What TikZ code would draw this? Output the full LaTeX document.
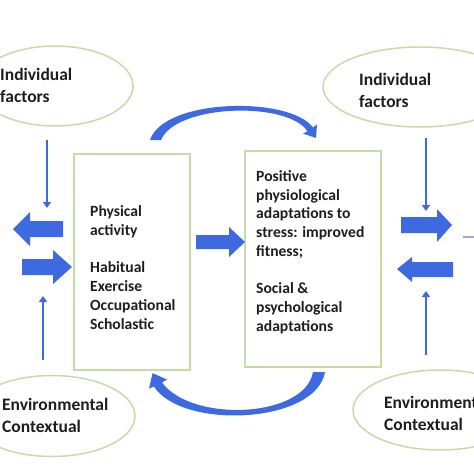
\documentclass[tikz,border=0pt]{standalone}
\usepackage{fontspec}
\setmainfont{Carlito}
\usetikzlibrary{shapes.geometric,arrows.meta}
\definecolor{arrowblue}{HTML}{3D6AE0}
\definecolor{linegreen}{HTML}{C4DDA8}
\definecolor{txt}{HTML}{1E1E1E}
\definecolor{dashgray}{HTML}{9AAAC8}
\tikzset{
  ell/.style={ellipse, draw=linegreen, line width=1.5pt, inner sep=0pt},
  bx/.style={rectangle, draw=linegreen, line width=1.5pt, inner sep=0pt},
  etext/.style={font=\fontsize{17.5}{21.5}\selectfont\bfseries, text=txt, align=left, inner sep=0pt, anchor=base west},
  btext/.style={font=\fontsize{15.6}{18.7}\selectfont\bfseries, text=txt, align=left, inner sep=0pt, anchor=base west},
  blockarrow/.style={fill=arrowblue, draw=none},
  thinarrow/.style={draw=arrowblue, line width=2.6pt, -{Triangle[width=8pt,length=6pt]}},
}
\begin{document}
\begin{tikzpicture}[x=1pt,y=-1pt]
\useasboundingbox (0,0) rectangle (474,474);
\clip (0,0) rectangle (474,474);
\fill[white] (0,0) rectangle (474,474);

% ellipses
\node[ell, minimum width=156pt, minimum height=80pt] (indL) at (55,86) {};
\node[ell, minimum width=194pt, minimum height=80pt] (indR) at (420,87) {};
\node[ell, minimum width=166pt, minimum height=81pt] (envL) at (52,416) {};
\node[ell, minimum width=174pt, minimum height=80pt] (envR) at (440,410) {};

\node[etext] (tIndL) at (0,102) {Individual\\factors};
\node[etext] (tIndR) at (359,107) {Individual\\factors};
\node[etext] (tEnvL) at (2,432) {Environmental\\Contextual};
\node[etext] (tEnvR) at (384,430) {Environmental\\Contextual};

% boxes
\node[bx, minimum width=116pt, minimum height=216pt] (boxL) at (132,262) {};
\node[bx, minimum width=136pt, minimum height=216pt] (boxR) at (313,259) {};

\node[btext] (tBoxL) at (90,329) {Physical\\activity\\[18.7pt]Habitual\\Exercise\\Occupational\\Scholastic};
\node[btext] (tBoxR) at (256,331) {Positive\\physiological\\adaptations to\\stress: improved\\fitness;\\[18.7pt]Social \&\\psychological\\adaptations};

% thin arrows
\coordinate (a1s) at (47,140); \coordinate (a1e) at (47,208);
\coordinate (a2s) at (43,360); \coordinate (a2e) at (43,296);
\coordinate (a3s) at (426,138); \coordinate (a3e) at (426,211);
\coordinate (a4s) at (426,355); \coordinate (a4e) at (426,291);
\draw[thinarrow] (a1s) -- (a1e);
\draw[thinarrow] (a2s) -- (a2e);
\draw[thinarrow] (a3s) -- (a3e);
\draw[thinarrow] (a4s) -- (a4e);

% block arrows
\fill[blockarrow] (63,221) -- (30,221) -- (30,212) -- (13,229) -- (30,246) -- (30,237) -- (63,237) -- cycle;
\fill[blockarrow] (22,259) -- (53,259) -- (53,250) -- (72,267) -- (53,284) -- (53,275) -- (22,275) -- cycle;
\fill[blockarrow] (196,235) -- (229,235) -- (229,227) -- (245,242) -- (229,257) -- (229,249) -- (196,249) -- cycle;
\fill[blockarrow] (401,217) -- (437,217) -- (437,209) -- (452,225) -- (437,242) -- (437,233) -- (401,233) -- cycle;
\fill[blockarrow] (453,262) -- (412,262) -- (412,257) -- (397,269) -- (412,282) -- (412,277) -- (453,277) -- cycle;

\coordinate (d1) at (463,237); \coordinate (d2) at (474,237);
\draw[dashgray, line width=2pt] (d1) -- (d2);

% curved arrows
\fill[blockarrow] (150,140) .. controls (164,98) and (290,96) .. (313,127.5)
  -- (317,124.5) -- (316,138) -- (303,133.5) -- (307.5,131.3)
  .. controls (288,101) and (176,104) .. (161,140) -- cycle;
\fill[blockarrow] (325,372) .. controls (316,424) and (182,430) .. (154,386.5)
  -- (149,388.5) -- (152.6,373.2) -- (167,379.5) -- (162,382.5)
  .. controls (192,423) and (305,418) .. (313,372) -- cycle;
\end{tikzpicture}
\end{document}
